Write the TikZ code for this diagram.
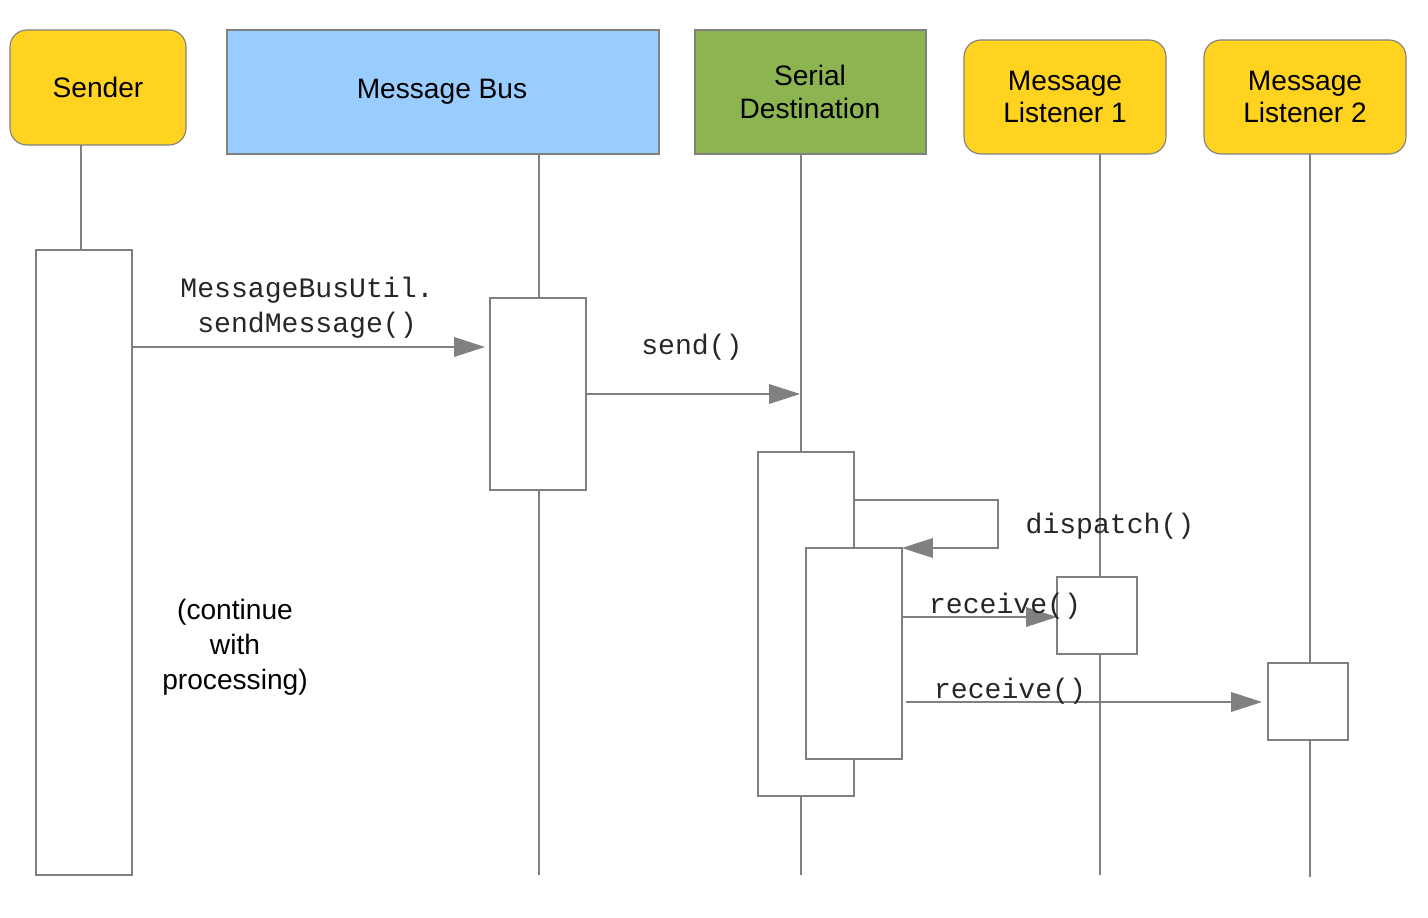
\documentclass[tikz,border=0pt]{standalone}
\usepackage{fontspec}
\setmainfont{Liberation Sans}
\setmonofont{Liberation Mono}
\usetikzlibrary{arrows.meta}
\definecolor{yel}{HTML}{FFD320}
\definecolor{blu}{HTML}{99CCFF}
\definecolor{grn}{HTML}{8CB552}
\definecolor{ln}{HTML}{808080}
\begin{document}
\begin{tikzpicture}[x=0.025cm,y=-0.025cm,
  hd/.style={draw=ln,line width=0.8pt,font=\fontsize{20}{23}\selectfont,align=center,inner sep=0pt},
  act/.style={draw=ln,fill=white,line width=0.8pt},
  life/.style={draw=ln,line width=0.8pt},
  msg/.style={draw=ln,line width=0.8pt,-{Triangle[length=22pt,width=14pt,fill=ln]}},
  lab/.style={font=\ttfamily\fontsize{20}{25}\selectfont,align=center,text=black!85}]
\useasboundingbox (0,0) rectangle (1428,918);
% lifelines
\draw[life] (81,145) -- (81,250);
\draw[life] (539,154) -- (539,875);
\draw[life] (801,154) -- (801,875);
\draw[life] (1100,154) -- (1100,875);
\draw[life] (1310,154) -- (1310,877);
% headers
\draw[hd,fill=yel,rounded corners=12pt] (10,30) rectangle (186,145);
\node[font=\fontsize{20}{23}\selectfont] (snd) at (98,87) {Sender};
\draw[hd,fill=blu] (227,30) rectangle (659,154);
\node[font=\fontsize{20}{23}\selectfont] (bus) at (442,92) {Message Bus};
\draw[hd,fill=grn] (695,30) rectangle (926,154);
\node[font=\fontsize{20}{23}\selectfont,align=center] (ser) at (810,92) {Serial\\Destination};
\draw[hd,fill=yel,rounded corners=12pt] (964,40) rectangle (1166,154);
\node[font=\fontsize{20}{23}\selectfont,align=center] (l1) at (1065,97) {Message\\Listener 1};
\draw[hd,fill=yel,rounded corners=12pt] (1204,40) rectangle (1406,154);
\node[font=\fontsize{20}{23}\selectfont,align=center] (l2) at (1305,97) {Message\\Listener 2};
% activations
\draw[act] (36,250) rectangle (132,875);
\draw[act] (490,298) rectangle (586,490);
\draw[act] (758,452) rectangle (854,796);
\draw[act] (806,548) rectangle (902,759);
\draw[act] (1057,577) rectangle (1137,654);
\draw[act] (1268,663) rectangle (1348,740);
% coordinates
\coordinate (a1) at (132,347); \coordinate (a2) at (485,347);
\coordinate (b1) at (586,394); \coordinate (b2) at (800,394);
\coordinate (c1) at (854,500); \coordinate (c2) at (998,500);
\coordinate (c3) at (998,548); \coordinate (c4) at (902,548);
\coordinate (d1) at (902,617); \coordinate (d2) at (1057,617);
\coordinate (e1) at (906,702); \coordinate (e2) at (1262,702);
\draw[msg] (a1) -- (a2);
\draw[msg] (b1) -- (b2);
\draw[msg] (c1) -- (c2) -- (c3) -- (c4);
\draw[msg] (d1) -- (d2);
\draw[msg] (e1) -- (e2);
% labels
\node[lab] (t1) at (307,308) {MessageBusUtil.\\sendMessage()};
\node[lab] (t2) at (692,347) {send()};
\node[lab] (t3) at (1110,526) {dispatch()};
\node[lab] (t4) at (1005,606) {receive()};
\node[lab] (t5) at (1010,691) {receive()};
\node[font=\fontsize{20}{25}\selectfont,align=center] (t6) at (235,647) {(continue\\with\\processing)};
\end{tikzpicture}
\end{document}
